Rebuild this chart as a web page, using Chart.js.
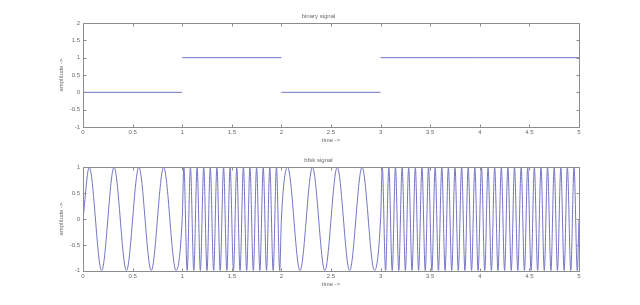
<!DOCTYPE html>
<html>
<head>
<meta charset="utf-8">
<title>binary signal / bfsk signal</title>
<script src="https://cdn.jsdelivr.net/npm/chart.js@4/dist/chart.umd.min.js"></script>
<style>
  html, body { margin: 0; padding: 0; background: #fff; }
  #wrap { position: relative; width: 640px; height: 305px; overflow: hidden; }
  #wrap canvas { position: absolute; left: 0; }
  #binary-chart { top: 0; }
  #fsk-chart { top: 150px; }
</style>
</head>
<body>
<div id="wrap">
  <canvas id="binary-chart" width="640" height="150"></canvas>
  <canvas id="fsk-chart" width="640" height="155"></canvas>
</div>
<script>
// Binary signal + BFSK signal (two stacked MATLAB-style subplots)

// message bits, one per time unit
var BITS = [0, 1, 0, 1, 1];
var BIT_EDGES = [0, 1, 2, 3, 4, 5];

// bfsk waveform: zero points at bit edges, peaks/troughs in between
var FSK_TIME = [
  0, 0.063, 0.188, 0.313, 0.438, 0.563, 0.688, 0.813, 0.938, 1,
  1.017, 1.05, 1.083, 1.117, 1.15, 1.183, 1.217, 1.25, 1.283, 1.317,
  1.35, 1.383, 1.417, 1.45, 1.483, 1.517, 1.55, 1.583, 1.617, 1.65,
  1.683, 1.717, 1.75, 1.783, 1.817, 1.85, 1.883, 1.917, 1.95, 1.983, 2,
  2.063, 2.188, 2.313, 2.438, 2.563, 2.688, 2.813, 2.938, 3,
  3.017, 3.05, 3.083, 3.117, 3.15, 3.183, 3.217, 3.25, 3.283, 3.317,
  3.35, 3.383, 3.417, 3.45, 3.483, 3.517, 3.55, 3.583, 3.617, 3.65,
  3.683, 3.717, 3.75, 3.783, 3.817, 3.85, 3.883, 3.917, 3.95, 3.983,
  4.017, 4.05, 4.083, 4.117, 4.15, 4.183, 4.217, 4.25, 4.283, 4.317,
  4.35, 4.383, 4.417, 4.45, 4.483, 4.517, 4.55, 4.583, 4.617, 4.65,
  4.683, 4.717, 4.75, 4.783, 4.817, 4.85, 4.883, 4.917, 4.95, 4.983, 5
];
var FSK_AMP = [
  0, 1, -1, 1, -1, 1, -1, 1, -1, 0,
  1, -1, 1, -1, 1, -1, 1, -1, 1, -1,
  1, -1, 1, -1, 1, -1, 1, -1, 1, -1,
  1, -1, 1, -1, 1, -1, 1, -1, 1, -1, 0,
  1, -1, 1, -1, 1, -1, 1, -1, 0,
  1, -1, 1, -1, 1, -1, 1, -1, 1, -1,
  1, -1, 1, -1, 1, -1, 1, -1, 1, -1,
  1, -1, 1, -1, 1, -1, 1, -1, 1, -1,
  1, -1, 1, -1, 1, -1, 1, -1, 1, -1,
  1, -1, 1, -1, 1, -1, 1, -1, 1, -1,
  1, -1, 1, -1, 1, -1, 1, -1, 1, -1, 0
];

var X_RANGE = [0, 5];
var BINARY_Y_RANGE = [-1, 2];
var FSK_Y_RANGE = [-1, 1];

var LINE_COLOR = '#7474c6';
var AXIS_COLOR = '#8c8c8c';
var TEXT_COLOR = '#6a6a6a';
var FONT = { family: "'Liberation Sans', Arial, sans-serif", size: 6 };

Chart.defaults.font.family = FONT.family;
Chart.defaults.font.size = FONT.size;
Chart.defaults.color = TEXT_COLOR;

// MATLAB style labels: 1 not 1.0
function tickText(value) {
  return String(Math.round(value * 100) / 100);
}

// MATLAB box with inward ticks on all four sides
var matlabAxes = {
  id: 'matlabAxes',
  afterDraw: function(chart) {
    var ctx = chart.ctx;
    var a = chart.chartArea;
    var xs = chart.scales.x;
    var ys = chart.scales.y;
    var L = Math.round(a.left) + 0.5;
    var R = Math.round(a.right) + 0.5;
    var T = Math.round(a.top) + 0.5;
    var B = Math.round(a.bottom) + 0.5;
    var len = 3;

    ctx.save();
    ctx.strokeStyle = AXIS_COLOR;
    ctx.lineWidth = 1;
    ctx.beginPath();
    ctx.rect(L, T, R - L, B - T);
    xs.ticks.forEach(function(t) {
      var px = Math.round(xs.getPixelForValue(t.value)) + 0.5;
      ctx.moveTo(px, B); ctx.lineTo(px, B - len);
      ctx.moveTo(px, T); ctx.lineTo(px, T + len);
    });
    ys.ticks.forEach(function(t) {
      var py = Math.round(ys.getPixelForValue(t.value)) + 0.5;
      ctx.moveTo(L, py); ctx.lineTo(L + len, py);
      ctx.moveTo(R, py); ctx.lineTo(R - len, py);
    });
    ctx.stroke();
    ctx.restore();
  }
};

function makeOptions(cfg) {
  return {
    responsive: false,
    devicePixelRatio: 1,
    animation: false,
    events: [],
    layout: { padding: { left: 58, right: 61, top: 0, bottom: cfg.bottomPad } },
    plugins: {
      legend: { display: false },
      tooltip: { enabled: false },
      title: {
        display: true,
        text: cfg.title,
        color: TEXT_COLOR,
        font: { size: FONT.size, weight: 'normal' },
        padding: { top: cfg.titleTop, bottom: cfg.titleBottom }
      }
    },
    scales: {
      x: {
        type: 'linear',
        min: X_RANGE[0],
        max: X_RANGE[1],
        grid: { display: false, drawTicks: false },
        border: { display: false },
        ticks: { stepSize: 0.5, padding: 2, maxRotation: 0, autoSkip: false, color: TEXT_COLOR, callback: tickText },
        title: { display: true, text: 'time ->', color: TEXT_COLOR, padding: 0 },
        afterFit: function(scale) { scale.height = cfg.xAxisHeight; }
      },
      y: {
        min: cfg.yRange[0],
        max: cfg.yRange[1],
        grid: { display: false, drawTicks: false },
        border: { display: false },
        ticks: { stepSize: 0.5, padding: 3, color: TEXT_COLOR, callback: tickText },
        title: { display: true, text: 'amplitude ->', color: TEXT_COLOR, padding: 0 },
        afterFit: function(scale) { scale.width = 25; }
      }
    }
  };
}

function buildBinaryPoints() {
  var pts = [];
  BITS.forEach(function(b, i) {
    pts.push({ x: BIT_EDGES[i], y: b });
    pts.push({ x: BIT_EDGES[i + 1], y: b });
    pts.push({ x: BIT_EDGES[i + 1], y: null });
  });
  return pts;
}

function buildFskPoints() {
  return FSK_TIME.map(function(t, i) { return { x: t, y: FSK_AMP[i] }; });
}

function renderBinary() {
  var canvas = document.getElementById('binary-chart');
  new Chart(canvas, {
    type: 'line',
    data: {
      datasets: [{
        data: buildBinaryPoints(),
        borderColor: LINE_COLOR,
        borderWidth: 1,
        pointRadius: 0,
        spanGaps: false,
        fill: false
      }]
    },
    options: makeOptions({
      title: 'binary signal',
      yRange: BINARY_Y_RANGE,
      titleTop: 12.4,
      titleBottom: 3.4,
      xAxisHeight: 16.6,
      bottomPad: 6.4
    }),
    plugins: [matlabAxes]
  });
}

function renderFsk() {
  var canvas = document.getElementById('fsk-chart');
  new Chart(canvas, {
    type: 'line',
    data: {
      datasets: [{
        data: buildFskPoints(),
        borderColor: LINE_COLOR,
        borderWidth: 1,
        pointRadius: 0,
        cubicInterpolationMode: 'monotone',
        fill: false
      }]
    },
    options: makeOptions({
      title: 'bfsk signal',
      yRange: FSK_Y_RANGE,
      titleTop: 7.1,
      titleBottom: 3.0,
      xAxisHeight: 16.9,
      bottomPad: 17.4
    }),
    plugins: [matlabAxes]
  });
}

renderBinary();
renderFsk();
</script>
</body>
</html>
